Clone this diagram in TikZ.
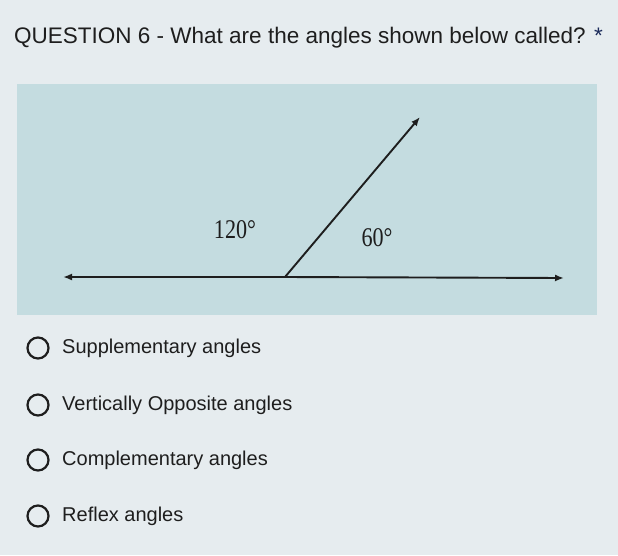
\documentclass[tikz,border=0pt]{standalone}
\usepackage{fontspec}
\setmainfont{Liberation Serif}
\newfontfamily\formfont{Liberation Sans}
\usetikzlibrary{arrows,arrows.meta,shapes}
\usetikzlibrary{calc}
\definecolor{pagebg}{HTML}{E6ECEF}
\definecolor{panelbg}{HTML}{C4DCE0}
\definecolor{inkdark}{HTML}{1E1E1E}
\definecolor{starblue}{HTML}{1A2A5A}
\tikzstyle{panel}=[fill=panelbg,draw=none]
\tikzstyle{ray} = [draw,line width=1.9pt,inkdark,-{Latex[length=9pt,width=7pt]}]
\tikzstyle{angletext} = [font=\fontsize{27}{27}\selectfont,inkdark,inner sep=0pt]
\tikzstyle{radio}=[circle,draw=inkdark,line width=2.2pt,minimum size=21pt,inner sep=0pt]
\tikzstyle{choice} = [font=\formfont\fontsize{20}{20}\selectfont,inkdark,anchor=west,inner sep=0pt]

\begin{document}
\begin{tikzpicture}[x=1pt,y=-1pt]
   \useasboundingbox[fill=pagebg] (0,0) rectangle (618,555);
   \node[font=\formfont\fontsize{22.5}{22.5}\selectfont,inkdark,anchor=base west,inner sep=0pt] (title) at (14,43)
      {QUESTION 6 - What are the angles shown below called? \textcolor{starblue}{*}};

   \path[panel] (17,84) rectangle (597,315);

   \coordinate (o) at (285,277);
   \coordinate (l) at (63,277);
   \coordinate (r) at (564,278);
   \coordinate (t) at (420,117);
   \path[ray] (o) -- (l);
   \path[ray] (o) -- (r);
   \path[ray] (o) -- (t);

   \node[angletext] (obtuse) at (235,230) {\scalebox{0.82}[1]{120°}};
   \node[angletext] (acute) at (377,238) {\scalebox{0.82}[1]{60°}};

   % answer choices
   \foreach \y/ \name/ \txt in {{348/a/Supplementary angles},{405/b/Vertically Opposite angles},
        {460/c/Complementary angles},{516/d/Reflex angles}}
   {
        \node[radio] (\name) at (38,\y) {};
        \node[choice] (\name txt) at (62,\y) {\txt};
   }

\end{tikzpicture}
\end{document}
